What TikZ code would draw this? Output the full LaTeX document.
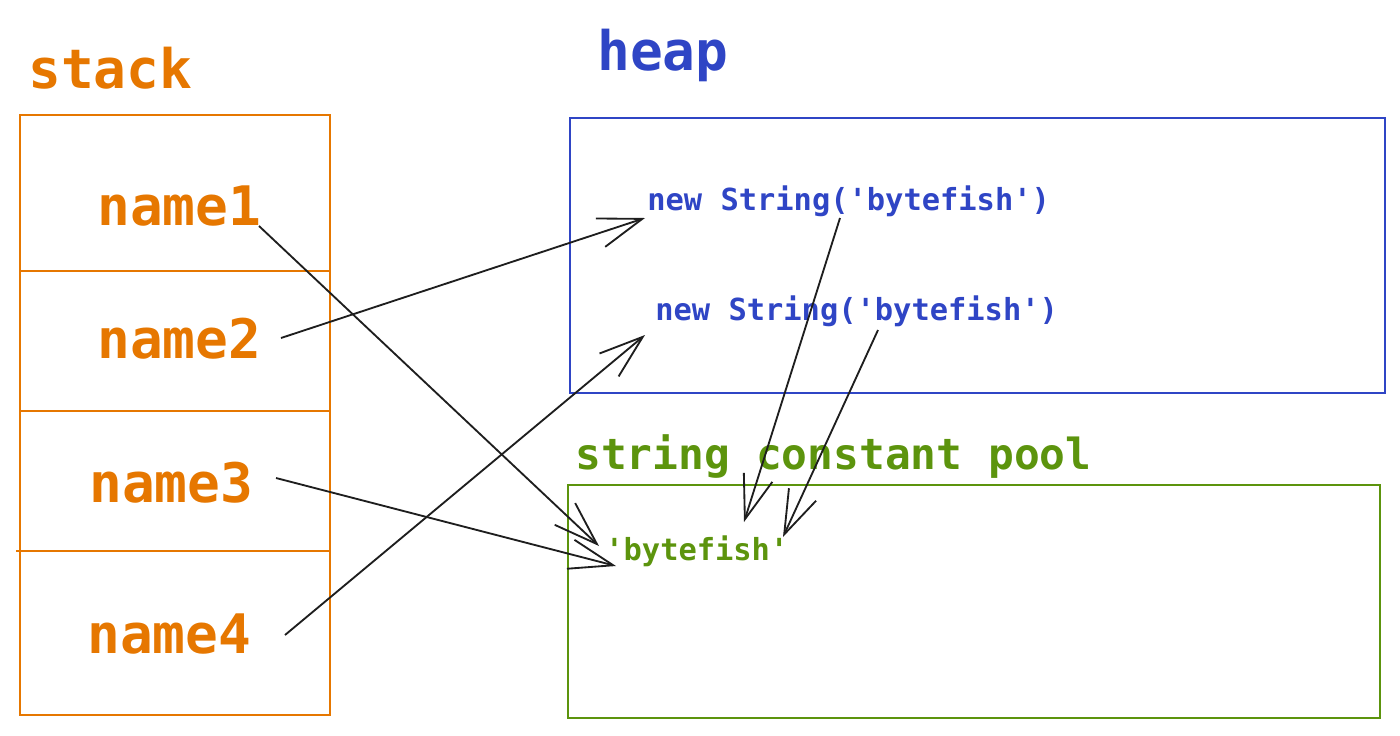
\documentclass[tikz,border=0pt]{standalone}
\usepackage{fontspec}
\setmonofont{DejaVu Sans Mono}
\usetikzlibrary{arrows.meta}
\definecolor{stackc}{HTML}{E67700}
\definecolor{heapc}{HTML}{2F45C5}
\definecolor{poolc}{HTML}{5C940D}
\definecolor{ink}{HTML}{1E1E1E}
\tikzset{
  stackline/.style={draw=stackc, line width=1.3pt},
  heapline/.style={draw=heapc, line width=1.3pt},
  poolline/.style={draw=poolc, line width=1.3pt},
  ref/.style={draw=ink, line width=1.05pt, -{Straight Barb[length=25pt,width=17pt]}},
  title/.style={anchor=base west, inner sep=0pt, font=\ttfamily\bfseries\fontsize{31}{36}\selectfont},
  var/.style={anchor=base west, inner sep=0pt, text=stackc, font=\ttfamily\bfseries\fontsize{31}{36}\selectfont},
  code/.style={anchor=base west, inner sep=0pt, font=\ttfamily\bfseries\fontsize{17.3}{20}\selectfont},
}

\begin{document}
\begin{tikzpicture}[x=0.02cm, y=-0.02cm]
\useasboundingbox (0,0) rectangle (1400,735);

% stack
\node[title, text=stackc] (stacklab) at (28,88) {stack};
\draw[stackline] (20,115) rectangle (330,715);
\draw[stackline] (20,271) -- (330,271);
\draw[stackline] (20,411) -- (330,411);
\draw[stackline] (16,551) -- (330,551);
\node[var] (name1) at (97,225) {name1};
\node[var] (name2) at (97,358) {name2};
\node[var] (name3) at (89,502) {name3};
\node[var] (name4) at (87,653) {name4};

% heap
\node[title, text=heapc] (heaplab) at (597,70) {heap};
\draw[heapline] (570,118) rectangle (1385,393);
\node[code, text=heapc] (obj1) at (647,210) {new String('bytefish')};
\node[code, text=heapc] (obj2) at (655,320) {new String('bytefish')};

% string constant pool
\node[title, text=poolc, font=\ttfamily\bfseries\fontsize{24.4}{28}\selectfont] (poollab) at (575,469) {string constant pool};
\draw[poolline] (568,485) rectangle (1380,718);
\node[code, text=poolc] (lit) at (605,560) {'bytefish'};

% references
\coordinate (t1) at (259,226);
\coordinate (t2) at (281,338);
\coordinate (t3) at (276,478);
\coordinate (t4) at (285,635);
\coordinate (h1) at (645,218);
\coordinate (h2) at (645,335);
\coordinate (p1) at (599,546);
\coordinate (p2) at (616,566);
\coordinate (s1) at (840,218);
\coordinate (s2) at (878,330);
\coordinate (q1) at (744,522);
\coordinate (q2) at (783,537);
\draw[ref] (t1) -- (p1);
\draw[ref] (t2) -- (h1);
\draw[ref] (t3) -- (p2);
\draw[ref] (t4) -- (h2);
\draw[ref] (s1) -- (q1);
\draw[ref] (s2) -- (q2);
\end{tikzpicture}
\end{document}
